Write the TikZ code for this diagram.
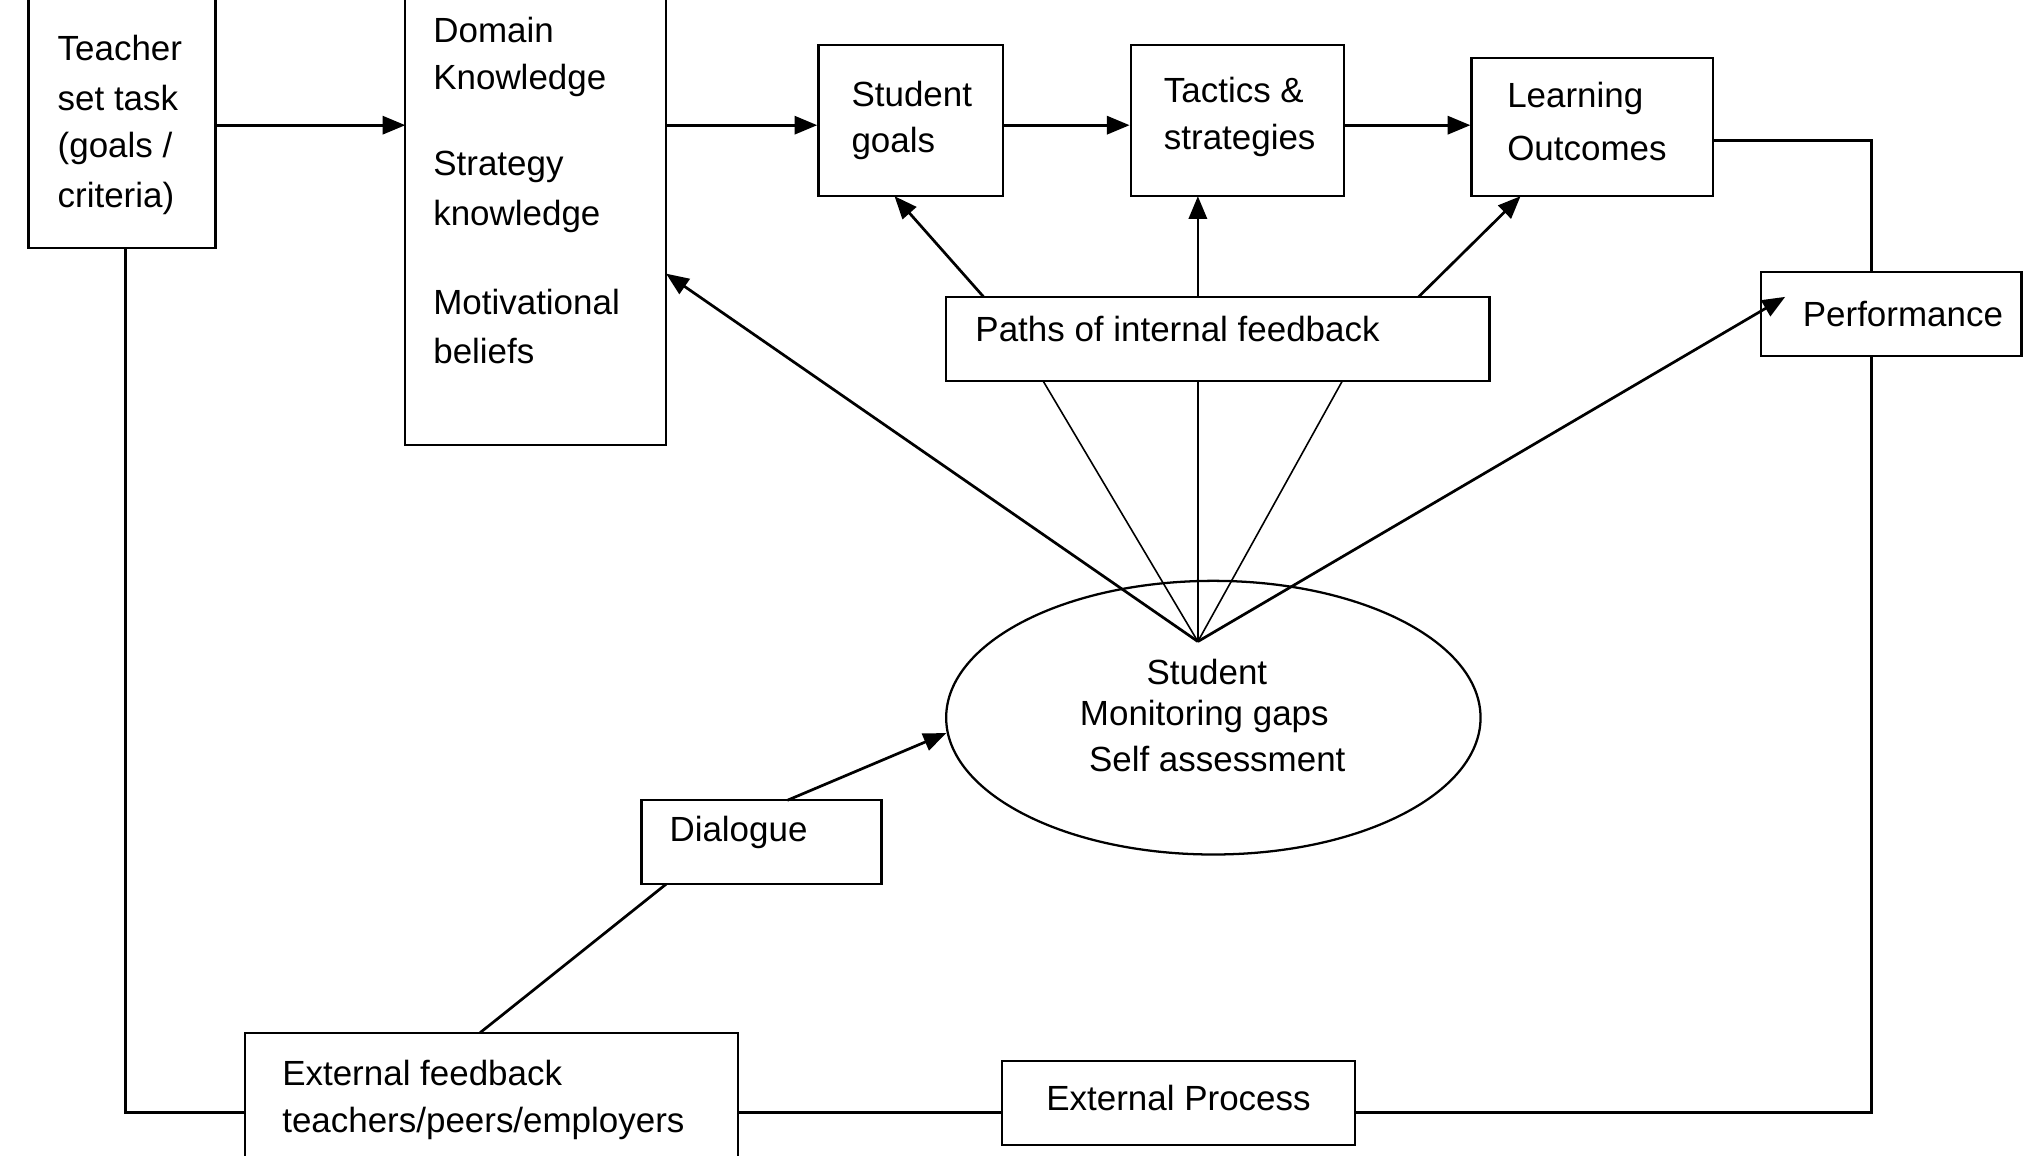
\documentclass[tikz,border=0pt]{standalone}
\usepackage{fontspec}
\setmainfont{Liberation Sans}
\usetikzlibrary{shapes.geometric,arrows.meta}
\begin{document}
\begin{tikzpicture}[x=0.01cm,y=-0.01cm,
  bx/.style={draw,line width=0.5pt},
  t/.style={anchor=west,inner sep=0pt,font=\fontsize{7.7}{11}\selectfont},
  ln/.style={line width=0.6pt},
  ar/.style={line width=0.6pt,-{Triangle[length=5pt,width=4pt]}},
  thin/.style={line width=0.35pt}]
\useasboundingbox (0,0) rectangle (1568,895);
\draw[bx] (22,-10) rectangle (167,192); \coordinate (teach) at (22,-10);
\node[t] (t1) at (44,37) {Teacher};
\node[t] (t2) at (44,76) {set task};
\node[t] (t3) at (44,115) {(goals /};
\node[t] (t4) at (44,154) {criteria)};
\draw[bx] (314,-10) rectangle (516,345);
\node[t] (d1) at (335,23) {Domain};
\node[t] (d2) at (335,62) {Knowledge};
\node[t] (d3) at (335,129) {Strategy};
\node[t] (d4) at (335,168) {knowledge};
\node[t] (d5) at (335,234) {Motivational};
\node[t] (d6) at (335,272) {beliefs};
\node[bx,minimum width=143*0.01cm,minimum height=117*0.01cm] (sg) at (705.5,93.5) {};
\node[t] at (659,73) {Student}; \node[t] at (659,111) {goals};
\node[bx,minimum width=165*0.01cm,minimum height=117*0.01cm] (ts) at (958.5,93.5) {};
\node[t] at (901,70) {Tactics \&}; \node[t] at (901,109) {strategies};
\node[bx,minimum width=187*0.01cm,minimum height=107*0.01cm] (lo) at (1233.5,98.5) {};
\node[t] at (1167,76) {Learning}; \node[t] at (1167,115) {Outcomes};
\node[bx,minimum width=202*0.01cm,minimum height=65*0.01cm] (pf) at (1465,243.5) {};
\node[t] at (1396,243) {Performance};
\node[bx,minimum width=421*0.01cm,minimum height=65*0.01cm] (pa) at (943.5,262.5) {};
\node[t] at (755,255) {Paths of internal feedback};
\node[draw,line width=0.5pt,ellipse,minimum width=414*0.01cm,minimum height=212*0.01cm,inner sep=0pt] (el) at (940,556) {};
\node[t,anchor=center] at (935,521) {Student};
\node[t,anchor=center] at (933,555) {Monitoring gaps};
\node[t,anchor=center] at (943,588) {Self assessment};
\node[bx,minimum width=186*0.01cm,minimum height=65*0.01cm] (dl) at (590,652.5) {};
\node[t] at (518,645) {Dialogue};
\draw[bx] (190,800) rectangle (572,905);
\node[t] at (218,831) {External feedback};
\node[t] at (218,870) {teachers/peers/employers};
\node[bx,minimum width=274*0.01cm,minimum height=65*0.01cm] (ep) at (913,854.5) {};
\node[t,anchor=center] at (913,851) {External Process};
\coordinate (top) at (928,497);
% connectors
\draw[ar] (167,97) -- (314,97);
\draw[ar] (516,97) -- (sg.west|-0,97);
\draw[ar] (sg.east|-0,97) -- (ts.west|-0,97);
\draw[ar] (ts.east|-0,97) -- (lo.west|-0,97);
\draw[ln] (lo.east|-0,109) -- (1450,109) -- (pf.north-|1450,0);
\draw[ln] (pf.south-|1450,0) -- (1450,862) -- (ep.east|-0,862);
\draw[ln] (ep.west|-0,862) -- (572,862);
\draw[ln] (97,192) -- (97,862) -- (190,862);
\draw[ln] (516,685) -- (372,800);
\draw[ar] (610,620) -- (733,568);
\draw[ar] (762,230) -- (693,152);
\draw[ar] (928,230) -- (928,152);
\draw[ar] (1099,230) -- (1178,152);
\draw[thin] (top) -- (808,295);
\draw[thin] (top) -- (928,295);
\draw[thin] (top) -- (1040,295);
\draw[ar] (top) -- (516,212);
\draw[ar] (top) -- (1383,230);
\end{tikzpicture}
\end{document}
